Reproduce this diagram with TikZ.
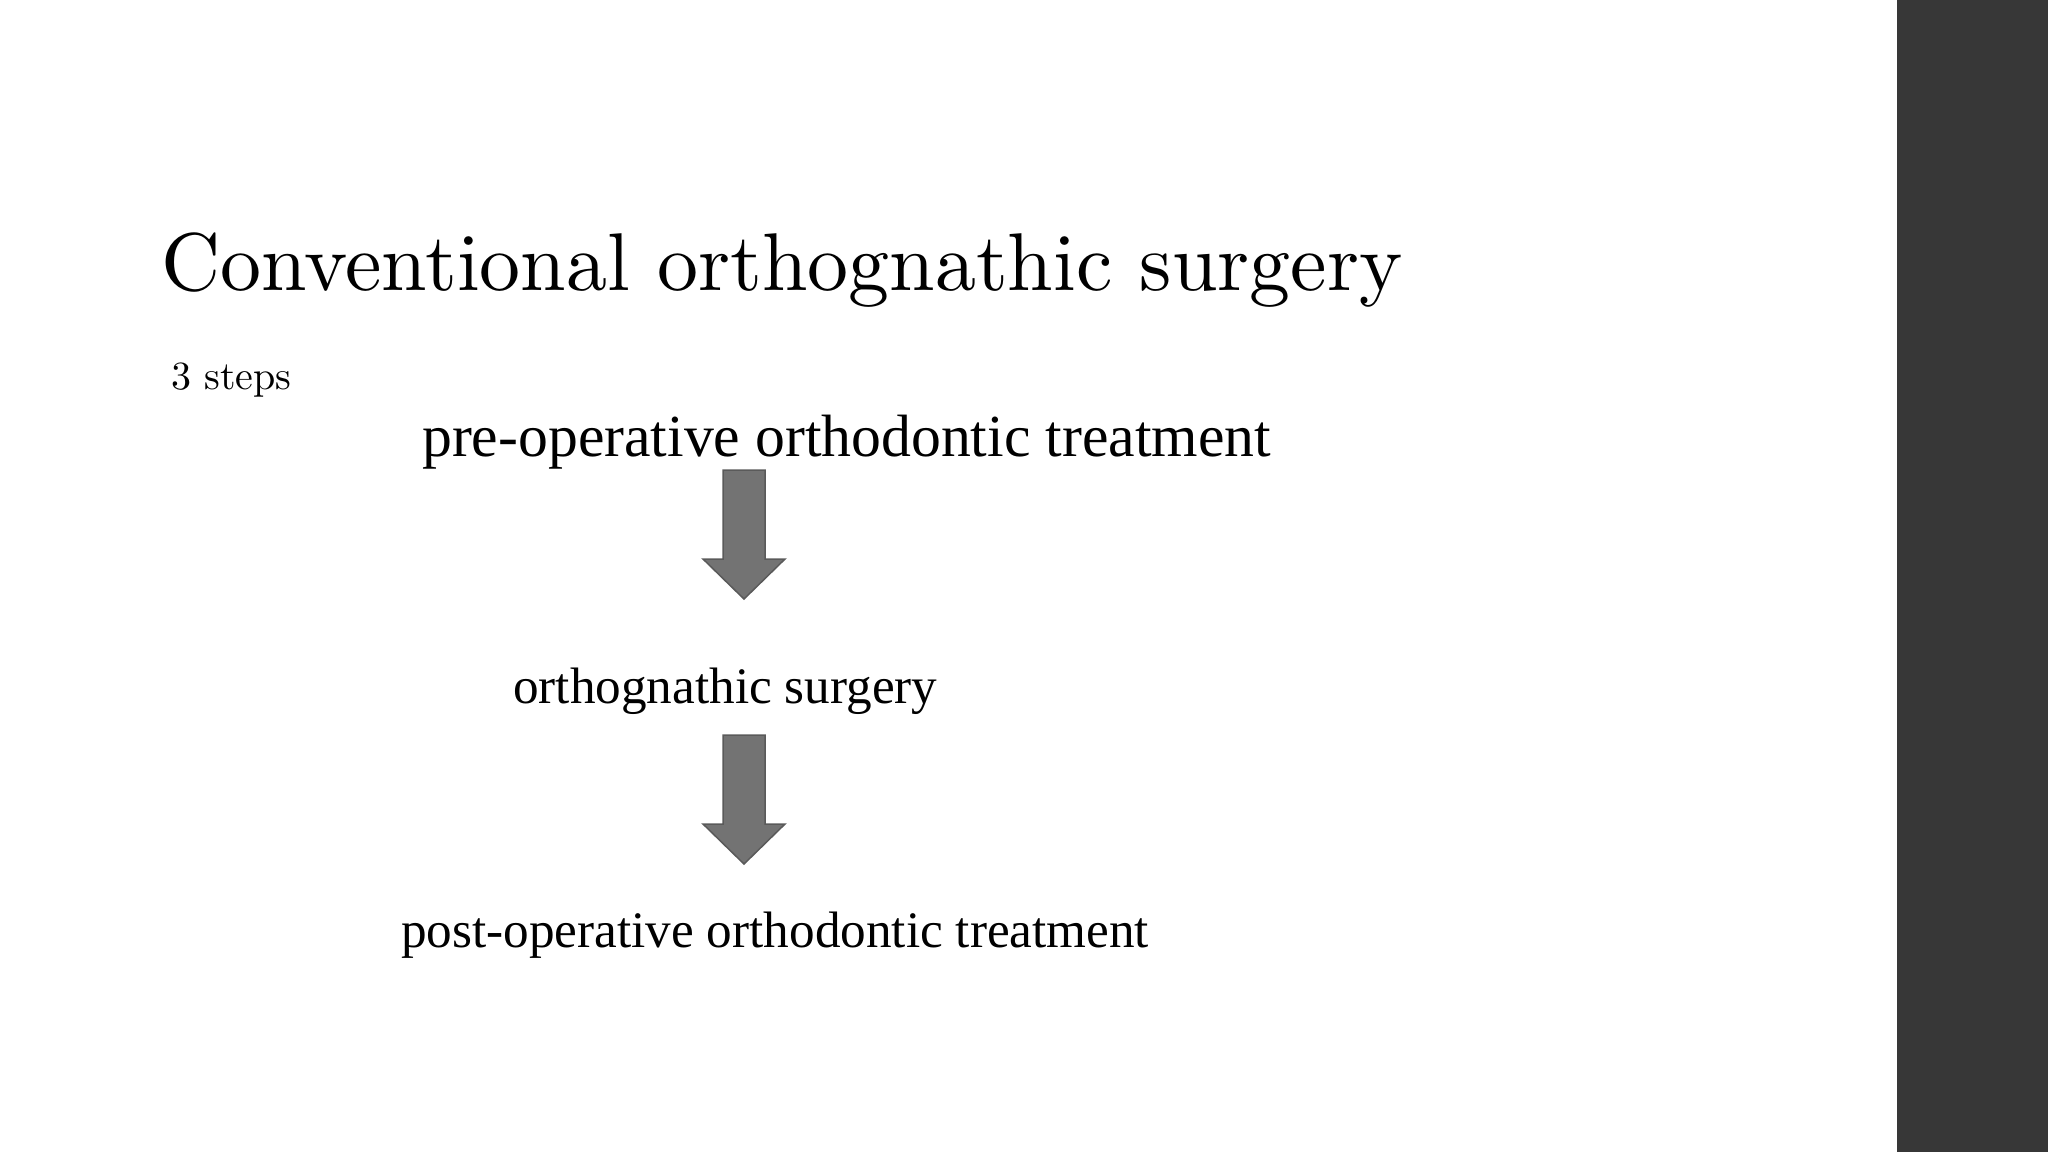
\documentclass[tikz,border=0pt]{standalone}
\usepackage{fontspec}
\usepackage{xcolor}
\usepackage{tikz}
\usetikzlibrary{positioning}
\newfontfamily\timesfont{Liberation Serif}
\newfontfamily\tenfont{lmroman10-regular}[Extension=.otf]
\definecolor{sidebar}{HTML}{373737}
\definecolor{arrowfill}{HTML}{737373}
\definecolor{arrowline}{HTML}{5A5A5A}

\begin{document}
\begin{tikzpicture}[x=1pt, y=-1pt,
  heading/.style={inner sep=0, anchor=base west, font=\tenfont\fontsize{81.9}{98}\selectfont},
  note/.style={inner sep=0, anchor=base west, font=\tenfont\fontsize{40}{48}\selectfont},
  stage/.style={inner sep=0, anchor=base west, font=\timesfont\fontsize{51.2}{60}\selectfont},
  blockarrow/.style={draw=arrowline, fill=arrowfill, line width=1.5pt, line join=miter}
]
\useasboundingbox (0,0) rectangle (2048,1152);

% Side bar
\fill[sidebar] (1897,0) rectangle (2048,1152);

% Title and steps
\node[heading] (title) at (161,290) {Conventional orthognathic surgery};
\node[note] (steps) at (171,389) {3 steps};
\node[stage, font=\timesfont\fontsize{59.7}{70}\selectfont] (preop) at (422,456) {pre-operative orthodontic treatment};
\node[stage] (surgery) at (513,703) {orthognathic surgery};
\node[stage] (postop) at (401,947) {post-operative orthodontic treatment};

% Block arrows
\coordinate (arrowA) at (744,470);
\coordinate (arrowB) at (744,735);
\draw[blockarrow] (arrowA) ++(-21,0) -- ++(42,0) -- ++(0,89) -- ++(20,0) -- ++(-41,40) -- ++(-41,-40) -- ++(20,0) -- cycle;
\draw[blockarrow] (arrowB) ++(-21,0) -- ++(42,0) -- ++(0,89) -- ++(20,0) -- ++(-41,40) -- ++(-41,-40) -- ++(20,0) -- cycle;

\end{tikzpicture}
\end{document}
